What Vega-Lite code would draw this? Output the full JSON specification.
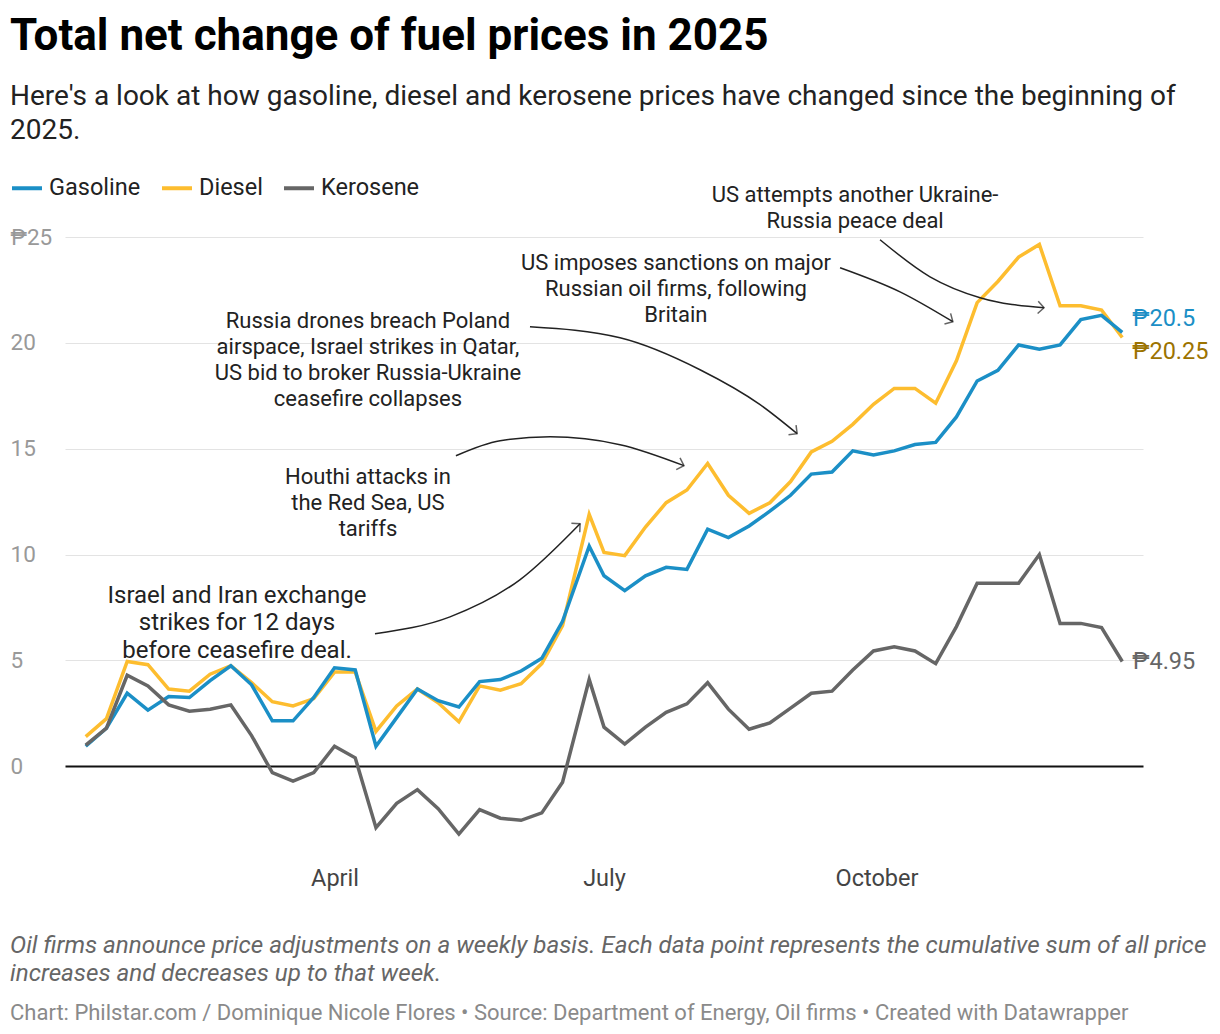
{
  "$schema": "https://vega.github.io/schema/vega-lite/v6.json",
  "background": "white",
  "padding": {"left": 10, "top": 15, "right": 10, "bottom": 5},
  "config": {
    "font": "Roboto",
    "view": {"stroke": null},
    "locale": {"number": {"decimal": ".", "thousands": ",", "grouping": [3], "currency": ["₱", ""]}}
  },
  "datasets": {
    "prices": [
      {"date": "2025-01-07", "Gasoline": 0.95, "Diesel": 1.4, "Kerosene": 1.0},
      {"date": "2025-01-14", "Gasoline": 1.8, "Diesel": 2.25, "Kerosene": 1.8},
      {"date": "2025-01-21", "Gasoline": 3.45, "Diesel": 4.95, "Kerosene": 4.3},
      {"date": "2025-01-28", "Gasoline": 2.65, "Diesel": 4.8, "Kerosene": 3.8},
      {"date": "2025-02-04", "Gasoline": 3.3, "Diesel": 3.65, "Kerosene": 2.9},
      {"date": "2025-02-11", "Gasoline": 3.25, "Diesel": 3.55, "Kerosene": 2.6},
      {"date": "2025-02-18", "Gasoline": 4.05, "Diesel": 4.35, "Kerosene": 2.7},
      {"date": "2025-02-25", "Gasoline": 4.75, "Diesel": 4.75, "Kerosene": 2.9},
      {"date": "2025-03-04", "Gasoline": 3.85, "Diesel": 3.95, "Kerosene": 1.45},
      {"date": "2025-03-11", "Gasoline": 2.15, "Diesel": 3.05, "Kerosene": -0.3},
      {"date": "2025-03-18", "Gasoline": 2.15, "Diesel": 2.85, "Kerosene": -0.7},
      {"date": "2025-03-25", "Gasoline": 3.25, "Diesel": 3.2, "Kerosene": -0.3},
      {"date": "2025-04-01", "Gasoline": 4.65, "Diesel": 4.45, "Kerosene": 0.95},
      {"date": "2025-04-08", "Gasoline": 4.55, "Diesel": 4.45, "Kerosene": 0.4},
      {"date": "2025-04-15", "Gasoline": 0.95, "Diesel": 1.65, "Kerosene": -2.9},
      {"date": "2025-04-22", "Gasoline": 2.3, "Diesel": 2.85, "Kerosene": -1.75},
      {"date": "2025-04-29", "Gasoline": 3.65, "Diesel": 3.65, "Kerosene": -1.1},
      {"date": "2025-05-06", "Gasoline": 3.1, "Diesel": 3.0, "Kerosene": -2.0},
      {"date": "2025-05-13", "Gasoline": 2.8, "Diesel": 2.1, "Kerosene": -3.2},
      {"date": "2025-05-20", "Gasoline": 4.0, "Diesel": 3.8, "Kerosene": -2.05},
      {"date": "2025-05-27", "Gasoline": 4.1, "Diesel": 3.6, "Kerosene": -2.45},
      {"date": "2025-06-03", "Gasoline": 4.5, "Diesel": 3.9, "Kerosene": -2.55},
      {"date": "2025-06-10", "Gasoline": 5.1, "Diesel": 4.85, "Kerosene": -2.2},
      {"date": "2025-06-17", "Gasoline": 6.85, "Diesel": 6.65, "Kerosene": -0.75},
      {"date": "2025-06-26", "Gasoline": 10.4, "Diesel": 11.9, "Kerosene": 4.1},
      {"date": "2025-07-01", "Gasoline": 9.0, "Diesel": 10.1, "Kerosene": 1.85},
      {"date": "2025-07-08", "Gasoline": 8.3, "Diesel": 9.95, "Kerosene": 1.05},
      {"date": "2025-07-15", "Gasoline": 9.0, "Diesel": 11.3, "Kerosene": 1.85},
      {"date": "2025-07-22", "Gasoline": 9.4, "Diesel": 12.45, "Kerosene": 2.55},
      {"date": "2025-07-29", "Gasoline": 9.3, "Diesel": 13.05, "Kerosene": 2.95},
      {"date": "2025-08-05", "Gasoline": 11.2, "Diesel": 14.3, "Kerosene": 3.95},
      {"date": "2025-08-12", "Gasoline": 10.8, "Diesel": 12.8, "Kerosene": 2.7},
      {"date": "2025-08-19", "Gasoline": 11.35, "Diesel": 11.95, "Kerosene": 1.75},
      {"date": "2025-08-26", "Gasoline": 12.05, "Diesel": 12.45, "Kerosene": 2.05},
      {"date": "2025-09-02", "Gasoline": 12.8, "Diesel": 13.45, "Kerosene": 2.75},
      {"date": "2025-09-09", "Gasoline": 13.8, "Diesel": 14.85, "Kerosene": 3.45},
      {"date": "2025-09-16", "Gasoline": 13.9, "Diesel": 15.35, "Kerosene": 3.55},
      {"date": "2025-09-23", "Gasoline": 14.9, "Diesel": 16.15, "Kerosene": 4.55},
      {"date": "2025-09-30", "Gasoline": 14.7, "Diesel": 17.1, "Kerosene": 5.45},
      {"date": "2025-10-07", "Gasoline": 14.9, "Diesel": 17.85, "Kerosene": 5.65},
      {"date": "2025-10-14", "Gasoline": 15.2, "Diesel": 17.85, "Kerosene": 5.45},
      {"date": "2025-10-21", "Gasoline": 15.3, "Diesel": 17.15, "Kerosene": 4.85},
      {"date": "2025-10-28", "Gasoline": 16.5, "Diesel": 19.15, "Kerosene": 6.6},
      {"date": "2025-11-04", "Gasoline": 18.2, "Diesel": 21.9, "Kerosene": 8.65},
      {"date": "2025-11-11", "Gasoline": 18.7, "Diesel": 22.9, "Kerosene": 8.65},
      {"date": "2025-11-18", "Gasoline": 19.9, "Diesel": 24.05, "Kerosene": 8.65},
      {"date": "2025-11-25", "Gasoline": 19.7, "Diesel": 24.65, "Kerosene": 10.0},
      {"date": "2025-12-02", "Gasoline": 19.9, "Diesel": 21.75, "Kerosene": 6.75},
      {"date": "2025-12-09", "Gasoline": 21.1, "Diesel": 21.75, "Kerosene": 6.75},
      {"date": "2025-12-16", "Gasoline": 21.3, "Diesel": 21.55, "Kerosene": 6.55},
      {"date": "2025-12-23", "Gasoline": 20.5, "Diesel": 20.25, "Kerosene": 4.95}
    ],
    "arrows": [
      {"id": "a1", "date": "2025-04-14T16:00:00Z", "value": 6.26},
      {"id": "a1", "date": "2025-05-10T00:00:00Z", "value": 7.06},
      {"id": "a1", "date": "2025-06-02T14:00:00Z", "value": 8.81},
      {"id": "a1", "date": "2025-06-22T22:00:00Z", "value": 11.46},
      {"id": "a2", "date": "2025-05-12T00:00:00Z", "value": 14.67},
      {"id": "a2", "date": "2025-05-26T22:00:00Z", "value": 15.38},
      {"id": "a2", "date": "2025-06-12T19:00:00Z", "value": 15.56},
      {"id": "a2", "date": "2025-07-06T10:00:00Z", "value": 15.19},
      {"id": "a2", "date": "2025-07-28T00:00:00Z", "value": 14.2},
      {"id": "a3", "date": "2025-06-06T00:00:00Z", "value": 20.76},
      {"id": "a3", "date": "2025-07-06T10:00:00Z", "value": 20.24},
      {"id": "a3", "date": "2025-08-02T10:00:00Z", "value": 18.73},
      {"id": "a3", "date": "2025-08-22T17:00:00Z", "value": 17.08},
      {"id": "a3", "date": "2025-09-04T05:00:00Z", "value": 15.71},
      {"id": "a4", "date": "2025-09-18T17:00:00Z", "value": 23.55},
      {"id": "a4", "date": "2025-10-08T23:00:00Z", "value": 22.41},
      {"id": "a4", "date": "2025-10-26T19:00:00Z", "value": 21.0},
      {"id": "a5", "date": "2025-10-02T05:00:00Z", "value": 24.87},
      {"id": "a5", "date": "2025-10-19T02:00:00Z", "value": 23.12},
      {"id": "a5", "date": "2025-11-05T00:00:00Z", "value": 22.13},
      {"id": "a5", "date": "2025-11-26T14:00:00Z", "value": 21.66}
    ],
    "heads": [
      {"id": "a1", "date": "2025-06-22T22:00:00Z", "value": 11.46},
      {"id": "a2", "date": "2025-07-28T00:00:00Z", "value": 14.2},
      {"id": "a3", "date": "2025-09-04T05:00:00Z", "value": 15.71},
      {"id": "a4", "date": "2025-10-26T19:00:00Z", "value": 21.0},
      {"id": "a5", "date": "2025-11-26T14:00:00Z", "value": 21.66}
    ],
    "notes": [
      {"id": "n1", "date": "2025-02-27T02:00:00Z", "value": 8.05, "text": "Israel and Iran exchange\nstrikes for 12 days\nbefore ceasefire deal."},
      {"id": "n2", "date": "2025-04-12T07:00:00Z", "value": 13.68, "text": "Houthi attacks in\nthe Red Sea, US\ntariffs"},
      {"id": "n3", "date": "2025-04-12T07:00:00Z", "value": 21.04, "text": "Russia drones breach Poland\nairspace, Israel strikes in Qatar,\nUS bid to broker Russia-Ukraine\nceasefire collapses"},
      {"id": "n4", "date": "2025-07-25T07:00:00Z", "value": 23.78, "text": "US imposes sanctions on major\nRussian oil firms, following\nBritain"},
      {"id": "n5", "date": "2025-09-23T19:00:00Z", "value": 27.0, "text": "US attempts another Ukraine-\nRussia peace deal"}
    ]
  },
  "title": {
    "text": "Total net change of fuel prices in 2025",
    "subtitle": ["Here's a look at how gasoline, diesel and kerosene prices have changed since the beginning of", "2025."],
    "anchor": "start",
    "frame": "bounds",
    "font": "Roboto",
    "fontSize": 44,
    "fontWeight": "bold",
    "color": "#000000",
    "subtitleFont": "Roboto",
    "subtitleFontSize": 28,
    "subtitleColor": "#222222",
    "subtitleLineHeight": 34,
    "subtitlePadding": 24,
    "offset": 26
  },
  "vconcat": [
    {
      "width": 1078,
      "height": 614,
      "title": {
        "text": ["Oil firms announce price adjustments on a weekly basis. Each data point represents the cumulative sum of all price", "increases and decreases up to that week."],
        "subtitle": "Chart: Philstar.com / Dominique Nicole Flores • Source: Department of Energy, Oil firms • Created with Datawrapper",
        "orient": "bottom",
        "anchor": "start",
        "frame": "bounds",
        "font": "Roboto",
        "fontSize": 24.2,
        "fontStyle": "italic",
        "fontWeight": "normal",
        "color": "#666666",
        "lineHeight": 28.4,
        "subtitleFont": "Roboto",
        "subtitleFontSize": 22,
        "subtitleColor": "#8a8a8a",
        "subtitlePadding": 16.5,
        "offset": 44
      },
      "layer": [
        {
          "data": {"name": "prices"},
          "transform": [{"fold": ["Diesel", "Gasoline", "Kerosene"], "as": ["fuel", "value"]}],
          "mark": {"type": "line", "strokeWidth": 3.5},
          "encoding": {
            "x": {
              "field": "date", "type": "temporal", "title": null,
              "scale": {"type": "utc", "domain": [{"year": 2024, "month": 12, "date": 31, "utc": true}, {"year": 2025, "month": 12, "date": 30, "utc": true}]},
              "axis": {
                "values": [{"year": 2025, "month": 4, "date": 1, "utc": true}, {"year": 2025, "month": 7, "date": 1, "utc": true}, {"year": 2025, "month": 10, "date": 1, "utc": true}],
                "format": "%B", "labelFontSize": 23.5, "labelColor": "#444444", "domain": false, "ticks": false, "tickSize": 0, "grid": false, "labelPadding": 15, "title": null
              }
            },
            "y": {
              "field": "value", "type": "quantitative", "title": null,
              "scale": {"domain": [-4, 25], "nice": false, "zero": false},
              "axis": {
                "values": [0, 5, 10, 15, 20, 25],
                "labelExpr": "datum.value == 25 ? '₱25' : datum.label",
                "labelAlign": "left", "labelBaseline": "middle", "labelPadding": 55, "labelFontSize": 22.5, "labelColor": "#999999",
                "domain": false, "ticks": false, "tickSize": 0, "title": null,
                "gridColor": {"condition": {"test": "datum.value === 0", "value": "#111111"}, "value": "#e3e3e3"},
                "gridWidth": {"condition": {"test": "datum.value === 0", "value": 2}, "value": 1}
              }
            },
            "color": {
              "field": "fuel", "type": "nominal",
              "scale": {"domain": ["Gasoline", "Diesel", "Kerosene"], "range": ["#1b8fc6", "#fdbd2f", "#666666"]},
              "legend": {"orient": "none", "legendX": -55, "legendY": -66, "direction": "horizontal", "title": null, "padding": 0,
                "labelFontSize": 23.5, "labelColor": "#222222", "symbolType": "stroke", "symbolSize": 900, "symbolStrokeWidth": 4, "columnPadding": 13, "labelOffset": 5}
            }
          }
        },
        {
          "data": {"name": "arrows"},
          "mark": {"type": "line", "stroke": "#222222", "strokeWidth": 1.5, "interpolate": "monotone"},
          "encoding": {
            "x": {"field": "date", "type": "temporal", "title": null},
            "y": {"field": "value", "type": "quantitative", "title": null},
            "detail": {"field": "id", "type": "nominal"}
          }
        },
        {
          "data": {"name": "heads"}, "transform": [{"filter": "datum.id == 'a1'"}],
          "mark": {"type": "point", "shape": "M -1 -1 L 0 0 L -1 1", "filled": false, "stroke": "#222222", "strokeWidth": 1.5, "size": 150, "angle": 317},
          "encoding": {"x": {"field": "date", "type": "temporal", "title": null}, "y": {"field": "value", "type": "quantitative", "title": null}}
        },
        {
          "data": {"name": "heads"}, "transform": [{"filter": "datum.id == 'a2'"}],
          "mark": {"type": "point", "shape": "M -1 -1 L 0 0 L -1 1", "filled": false, "stroke": "#222222", "strokeWidth": 1.5, "size": 150, "angle": 18},
          "encoding": {"x": {"field": "date", "type": "temporal", "title": null}, "y": {"field": "value", "type": "quantitative", "title": null}}
        },
        {
          "data": {"name": "heads"}, "transform": [{"filter": "datum.id == 'a3'"}],
          "mark": {"type": "point", "shape": "M -1 -1 L 0 0 L -1 1", "filled": false, "stroke": "#222222", "strokeWidth": 1.5, "size": 150, "angle": 38},
          "encoding": {"x": {"field": "date", "type": "temporal", "title": null}, "y": {"field": "value", "type": "quantitative", "title": null}}
        },
        {
          "data": {"name": "heads"}, "transform": [{"filter": "datum.id == 'a4'"}],
          "mark": {"type": "point", "shape": "M -1 -1 L 0 0 L -1 1", "filled": false, "stroke": "#222222", "strokeWidth": 1.5, "size": 150, "angle": 30},
          "encoding": {"x": {"field": "date", "type": "temporal", "title": null}, "y": {"field": "value", "type": "quantitative", "title": null}}
        },
        {
          "data": {"name": "heads"}, "transform": [{"filter": "datum.id == 'a5'"}],
          "mark": {"type": "point", "shape": "M -1 -1 L 0 0 L -1 1", "filled": false, "stroke": "#222222", "strokeWidth": 1.5, "size": 150, "angle": 3},
          "encoding": {"x": {"field": "date", "type": "temporal", "title": null}, "y": {"field": "value", "type": "quantitative", "title": null}}
        },
        {
          "data": {"name": "notes"}, "transform": [{"filter": "datum.id == 'n1'"}],
          "mark": {"type": "text", "lineBreak": "\n", "fontSize": 24, "lineHeight": 27.5, "align": "center", "baseline": "middle", "color": "#222222"},
          "encoding": {
            "x": {"field": "date", "type": "temporal", "title": null},
            "y": {"field": "value", "type": "quantitative", "title": null},
            "text": {"field": "text", "type": "nominal"}
          }
        },
        {
          "data": {"name": "notes"}, "transform": [{"filter": "datum.id != 'n1'"}],
          "mark": {"type": "text", "lineBreak": "\n", "fontSize": 22, "lineHeight": 26, "align": "center", "baseline": "middle", "color": "#222222"},
          "encoding": {
            "x": {"field": "date", "type": "temporal", "title": null},
            "y": {"field": "value", "type": "quantitative", "title": null},
            "text": {"field": "text", "type": "nominal"}
          }
        },
        {
          "data": {"name": "prices"}, "transform": [{"filter": "utcmonth(datum.date) == 11 && utcdate(datum.date) == 23"}],
          "mark": {"type": "text", "align": "left", "baseline": "middle", "dx": 10, "dy": -13, "fontSize": 23.5, "color": "#1b8fc6"},
          "encoding": {
            "x": {"field": "date", "type": "temporal", "title": null},
            "y": {"field": "Gasoline", "type": "quantitative", "title": null},
            "text": {"field": "Gasoline", "type": "quantitative", "format": "$.2~f"}
          }
        },
        {
          "data": {"name": "prices"}, "transform": [{"filter": "utcmonth(datum.date) == 11 && utcdate(datum.date) == 23"}],
          "mark": {"type": "text", "align": "left", "baseline": "middle", "dx": 10, "dy": 14, "fontSize": 23.5, "color": "#9c7300"},
          "encoding": {
            "x": {"field": "date", "type": "temporal", "title": null},
            "y": {"field": "Diesel", "type": "quantitative", "title": null},
            "text": {"field": "Diesel", "type": "quantitative", "format": "$.2~f"}
          }
        },
        {
          "data": {"name": "prices"}, "transform": [{"filter": "utcmonth(datum.date) == 11 && utcdate(datum.date) == 23"}],
          "mark": {"type": "text", "align": "left", "baseline": "middle", "dx": 10, "dy": 0, "fontSize": 23.5, "color": "#666666"},
          "encoding": {
            "x": {"field": "date", "type": "temporal", "title": null},
            "y": {"field": "Kerosene", "type": "quantitative", "title": null},
            "text": {"field": "Kerosene", "type": "quantitative", "format": "$.2~f"}
          }
        }
      ]
    }
  ]
}
